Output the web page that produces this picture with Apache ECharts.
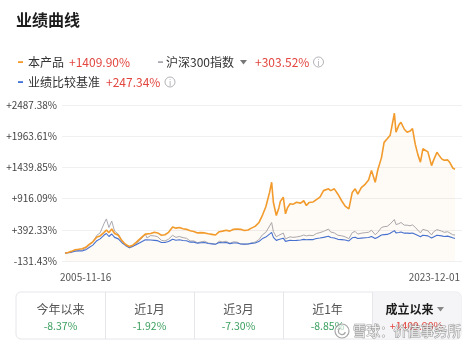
<!DOCTYPE html>
<html>
<head>
<meta charset="utf-8">
<script src="https://cdn.jsdelivr.net/npm/echarts@6/dist/echarts.min.js"></script>
<style>
  html, body { margin: 0; padding: 0; background: #fff; }
  #chart { width: 474px; height: 348px; }
</style>
</head>
<body>
<div id="chart"></div>
<script>
// Cumulative return (%) since inception, sampled roughly every two months plus turning points
const dates = [
  '2005-11-16','2006-01-04','2006-03-01','2006-05-08','2006-07-03','2006-09-01','2006-11-01','2007-01-04','2007-03-01','2007-05-08',
  '2007-07-02','2007-09-03','2007-10-16','2007-11-28','2008-01-14','2008-03-03','2008-05-05','2008-07-01','2008-09-01','2008-11-04',
  '2009-01-05','2009-03-02','2009-05-04','2009-08-04','2009-09-01','2009-11-02','2010-01-04','2010-03-01','2010-05-04','2010-07-01',
  '2010-09-01','2010-11-08','2011-01-04','2011-03-01','2011-05-03','2011-07-01','2011-09-01','2011-11-01','2012-01-04','2012-03-01',
  '2012-05-02','2012-07-02','2012-09-03','2012-11-01','2013-01-04','2013-03-01','2013-05-02','2013-07-01','2013-09-02','2013-11-01',
  '2014-01-02','2014-03-03','2014-05-05','2014-07-01','2014-09-01','2014-11-03','2015-01-05','2015-03-02','2015-05-04','2015-06-08',
  '2015-07-08','2015-08-26','2015-10-08','2015-11-02','2015-12-22','2016-01-28','2016-03-01','2016-04-15','2016-06-01','2016-08-01',
  '2016-10-10','2016-12-01','2017-01-16','2017-03-01','2017-05-10','2017-07-03','2017-09-01','2017-11-01','2018-01-24','2018-03-01',
  '2018-05-02','2018-07-02','2018-09-03','2018-11-01','2019-01-03','2019-03-01','2019-04-19','2019-06-03','2019-08-01','2019-10-08',
  '2019-12-02','2020-01-20','2020-03-23','2020-05-06','2020-07-06','2020-08-20','2020-10-12','2020-12-01','2021-02-10','2021-03-09',
  '2021-04-26','2021-06-01','2021-07-28','2021-09-13','2021-11-01','2021-12-13','2022-01-28','2022-03-15','2022-04-26','2022-06-06',
  '2022-07-05','2022-08-30','2022-10-31','2022-12-01','2023-01-30','2023-03-01','2023-04-20','2023-06-01','2023-07-31','2023-09-01',
  '2023-10-23','2023-11-15','2023-12-01'
];

const productReturns = [
  0, 12, 30, 58, 66, 75, 98, 150, 190, 270,
  290, 345, 390, 345, 405, 330, 300, 215, 150, 112,
  135, 180, 240, 320, 290, 330, 352, 340, 300, 310,
  350, 440, 420, 430, 410, 400, 375, 365, 340, 345,
  340, 325, 315, 305, 360, 370, 385, 370, 400, 405,
  400, 380, 390, 420, 450, 510, 640, 780, 1020, 1190,
  850, 632, 760, 870, 940, 660, 760, 830, 820, 855,
  840, 880, 800, 850, 860, 900, 940, 1050, 1080, 1050,
  1080, 990, 880, 790, 745, 1020, 1080, 990, 1100, 1160,
  1230, 1390, 1190, 1400, 1600, 1860, 1920, 1980, 2349, 2030,
  2150, 2198, 2080, 2030, 2050, 2090, 1830, 1650, 1527, 1752,
  1780, 1700, 1470, 1554, 1694, 1650, 1583, 1560, 1566, 1527,
  1430, 1460, 1409.90
];

const csi300Returns = [
  0, 8, 18, 45, 52, 50, 78, 140, 190, 300,
  340, 490, 575, 430, 540, 370, 320, 215, 140, 85,
  110, 155, 215, 320, 255, 295, 290, 275, 215, 205,
  235, 300, 265, 280, 260, 250, 205, 205, 175, 190,
  200, 170, 160, 150, 200, 190, 200, 165, 190, 185,
  155, 150, 152, 172, 185, 225, 310, 350, 455, 515,
  360, 275, 300, 318, 338, 240, 260, 275, 265, 272,
  285, 305, 290, 300, 295, 330, 345, 365, 405, 355,
  340, 300, 292, 275, 243, 345, 365, 320, 335, 345,
  350, 385, 310, 350, 430, 445, 450, 490, 565, 480,
  495, 515, 470, 470, 460, 475, 435, 385, 340, 400,
  410, 375, 305, 355, 395, 375, 370, 350, 360, 340,
  310, 318, 303.52
];

const benchmarkReturns = [
  0, 6, 14, 33, 38, 36, 56, 100, 135, 210,
  240, 300, 330, 280, 322, 265, 240, 180, 130, 95,
  115, 140, 175, 225, 200, 220, 215, 210, 180, 178,
  195, 235, 218, 225, 212, 208, 185, 185, 168, 175,
  180, 162, 156, 150, 180, 176, 180, 160, 172, 170,
  155, 152, 154, 165, 172, 195, 245, 270, 320, 350,
  265, 215, 230, 240, 252, 198, 210, 217, 212, 215,
  222, 232, 225, 230, 228, 246, 254, 265, 285, 262,
  255, 232, 228, 220, 205, 258, 268, 245, 252, 258,
  262, 280, 245, 268, 305, 312, 315, 335, 378, 340,
  347, 356, 336, 336, 332, 338, 318, 296, 275, 302,
  306, 290, 255, 280, 300, 292, 290, 280, 286, 276,
  258, 262, 247.34
];

const seriesNames = ['本产品', '沪深300指数', '业绩比较基准'];
const yTickLabels = ['-131.43%', '+392.33%', '+916.09%', '+1439.85%', '+1963.61%', '+2487.38%'];
const yMin = -131.43;
const yMax = 2487.38;

const periodLabels = ['今年以来', '近1月', '近3月', '近1年', '成立以来'];
const periodReturns = [-8.37, -1.92, -7.30, -8.85, 1409.90];

// ---- styling ----
const FONT = '"Noto Sans CJK SC", "Noto Sans", sans-serif';
const ORANGE = '#f29b2c';
const GRAY = '#a9a9b2';
const BLUE = '#3f6fd8';
const RED = '#e2463f';
const GREEN = '#3a9f5e';

const fmtPct = v => (v >= 0 ? '+' : '') + v.toFixed(2) + '%';
const toTime = s => { const p = s.split('-').map(Number); return new Date(p[0], p[1] - 1, p[2]).getTime(); };
const times = dates.map(toTime);
const pair = arr => arr.map((v, i) => [times[i], v]);

// leave a little room on both ends of the time range, as on the grid lines
const t0 = times[0], t1 = times[times.length - 1], span = t1 - t0;
const xMin = t0 - span * 3 / 390;
const xMax = t1 + span * 7 / 390;

const last = arr => arr[arr.length - 1];

function txt(x, y, text, size, fill, opts) {
  opts = opts || {};
  return {
    type: 'text', x: x, y: y, silent: true, z: 10,
    style: {
      text: text, fill: fill,
      font: (opts.bold ? 'bold ' : '') + size + 'px ' + FONT,
      align: opts.align || 'left', verticalAlign: 'middle',
      stroke: opts.stroke, lineWidth: opts.lineWidth || 0, opacity: opts.opacity == null ? 1 : opts.opacity
    }
  };
}
function dash(x, y, color) {
  return { type: 'rect', silent: true, shape: { x: x, y: y - 0.8, width: 5, height: 1.8 }, style: { fill: color } };
}
function infoIcon(cx, cy) {
  return [
    { type: 'circle', silent: true, shape: { cx: cx, cy: cy, r: 5 }, style: { fill: 'none', stroke: '#b3b3b8', lineWidth: 1 } },
    txt(cx, cy + 0.5, 'i', 8, '#a8a8ae', { align: 'center' })
  ];
}
function caret(cx, cy, color) {
  return { type: 'polygon', silent: true, shape: { points: [[cx - 3.5, cy - 2], [cx + 3.5, cy - 2], [cx, cy + 2.5]] }, style: { fill: color } };
}

const graphic = [];
// title
graphic.push(txt(16, 20, '业绩曲线', 16, '#1c1c1c', { bold: true }));
// legend rows
graphic.push(dash(18, 62, ORANGE), txt(28, 62, seriesNames[0], 12, '#333'), txt(69, 62, fmtPct(last(productReturns)), 12, RED));
graphic.push(dash(158, 62, GRAY), txt(166, 62, seriesNames[1], 12, '#333'), caret(243.5, 62, '#777'), txt(255, 62, fmtPct(last(csi300Returns)), 12, RED));
graphic.push(...infoIcon(318.5, 62));
graphic.push(dash(18, 82, BLUE), txt(28, 82, seriesNames[2], 12, '#333'), txt(106, 82, fmtPct(last(benchmarkReturns)), 12, RED));
graphic.push(...infoIcon(170, 82));
// first / last date under the plot
graphic.push(txt(60, 277.5, dates[0], 10, '#555'));
graphic.push(txt(460, 277.5, last(dates), 10, '#555', { align: 'right' }));

// period return tabs
const boxX = 16, boxY = 292, boxW = 445, boxH = 47;
const cellW = boxW / periodLabels.length;
graphic.push({ type: 'rect', silent: true, shape: { x: boxX, y: boxY, width: boxW, height: boxH, r: 5 }, style: { fill: '#fff', stroke: '#e6e6ea', lineWidth: 1 } });
graphic.push({ type: 'rect', silent: true, shape: { x: boxX + cellW * 4, y: boxY + 0.5, width: cellW - 0.5, height: boxH - 1, r: [0, 5, 5, 0] }, style: { fill: '#f5f5f7' } });
for (let i = 1; i < periodLabels.length; i++) {
  const lx = Math.round(boxX + cellW * i) + 0.5;
  graphic.push({ type: 'line', silent: true, shape: { x1: lx, y1: boxY, x2: lx, y2: boxY + boxH }, style: { stroke: '#e6e6ea', lineWidth: 1 } });
}
periodLabels.forEach((lab, i) => {
  const cx = boxX + cellW * (i + 0.5);
  const v = periodReturns[i];
  const isLast = i === periodLabels.length - 1;
  if (isLast) {
    graphic.push(txt(cx - 7, 309, lab, 12, '#1c1c1c', { align: 'center', bold: true }));
    graphic.push(caret(cx + 24, 309, '#888'));
  } else {
    graphic.push(txt(cx, 309, lab, 12, '#555', { align: 'center' }));
  }
  graphic.push(txt(cx, 326, fmtPct(v), 10.5, v >= 0 ? RED : GREEN, { align: 'center' }));
});

// watermark
graphic.push({ type: 'circle', silent: true, z: 11, shape: { cx: 342, cy: 331, r: 7 }, style: { fill: 'rgba(255,255,255,0.6)', stroke: 'rgba(130,130,130,0.7)', lineWidth: 1.2 } });
graphic.push({ type: 'arc', silent: true, z: 11, shape: { cx: 342, cy: 331, r: 3.5, startAngle: 0.3, endAngle: 4.2 }, style: { fill: 'none', stroke: 'rgba(130,130,130,0.7)', lineWidth: 1.2 } });
const wm = txt(353, 331, '雪球：价值事务所', 13.5, 'rgba(255,255,255,0.85)', { stroke: 'rgba(120,120,120,0.75)', lineWidth: 1 });
wm.z = 11;
graphic.push(wm);

const chart = echarts.init(document.getElementById('chart'), null, { renderer: 'canvas' });
chart.setOption({
  animation: false,
  backgroundColor: '#fff',
  grid: { left: 62, right: 12, top: 105, bottom: 87, containLabel: false },
  xAxis: {
    type: 'time', min: xMin, max: xMax,
    axisLine: { show: false }, axisTick: { show: false }, axisLabel: { show: false }, splitLine: { show: false }
  },
  yAxis: {
    type: 'value', min: yMin, max: yMax, interval: (yMax - yMin) / 5,
    axisLine: { show: false }, axisTick: { show: false },
    splitLine: { lineStyle: { color: '#f0f0f2', width: 1 } },
    axisLabel: {
      margin: 5, fontSize: 10, color: '#444', fontFamily: FONT,
      formatter: (val, idx) => yTickLabels[idx] !== undefined ? yTickLabels[idx] : ''
    }
  },
  series: [
    {
      name: seriesNames[1], type: 'line', data: pair(csi300Returns), showSymbol: false,
      lineStyle: { color: GRAY, width: 1 }, itemStyle: { color: GRAY }, z: 2
    },
    {
      name: seriesNames[2], type: 'line', data: pair(benchmarkReturns), showSymbol: false,
      lineStyle: { color: BLUE, width: 1.1 }, itemStyle: { color: BLUE }, z: 3
    },
    {
      name: seriesNames[0], type: 'line', data: pair(productReturns), showSymbol: false,
      lineStyle: { color: ORANGE, width: 1.6 }, itemStyle: { color: ORANGE }, z: 4,
      areaStyle: { origin: 'start', color: 'rgba(245,160,50,0.07)' }
    }
  ],
  graphic: graphic
});
</script>
</body>
</html>
